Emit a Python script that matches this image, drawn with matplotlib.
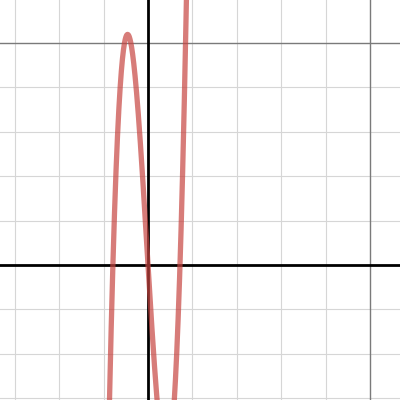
import numpy as np
import matplotlib
matplotlib.use("Agg")
import matplotlib.pyplot as plt

# cubic f(x) = a * (x - r1)(x - r2)(x - r3)
scale_a = 29.0
roots = [-0.79, 0.0, 0.72]
x_range = [-3.33, 5.67]
y_range = [-3.04, 5.97]

fig = plt.figure(figsize=(4, 4), dpi=100)
ax = fig.add_axes([0, 0, 1, 1])
ax.set_xlim(*x_range)
ax.set_ylim(*y_range)
for v in range(-3, 6):
    if v == 0:
        continue
    c, lw = ("#7a7a7a", 1.0) if v % 5 == 0 else ("#d6d6d6", 0.8)
    ax.axvline(v, color=c, lw=lw, zorder=1)
    ax.axhline(v, color=c, lw=lw, zorder=1)
ax.axvline(0, color="black", lw=2, zorder=2)
ax.axhline(0, color="black", lw=2, zorder=2)

x = np.linspace(-1.2, 1.2, 2000)
y = scale_a * np.prod([x - r for r in roots], axis=0)
ax.plot(x, y, color="#c74440", alpha=0.7, lw=3.8, solid_capstyle="round", zorder=3)
ax.set_xticks([]); ax.set_yticks([])
for s in ax.spines.values():
    s.set_visible(False)
fig.savefig("out.png", dpi=100)
